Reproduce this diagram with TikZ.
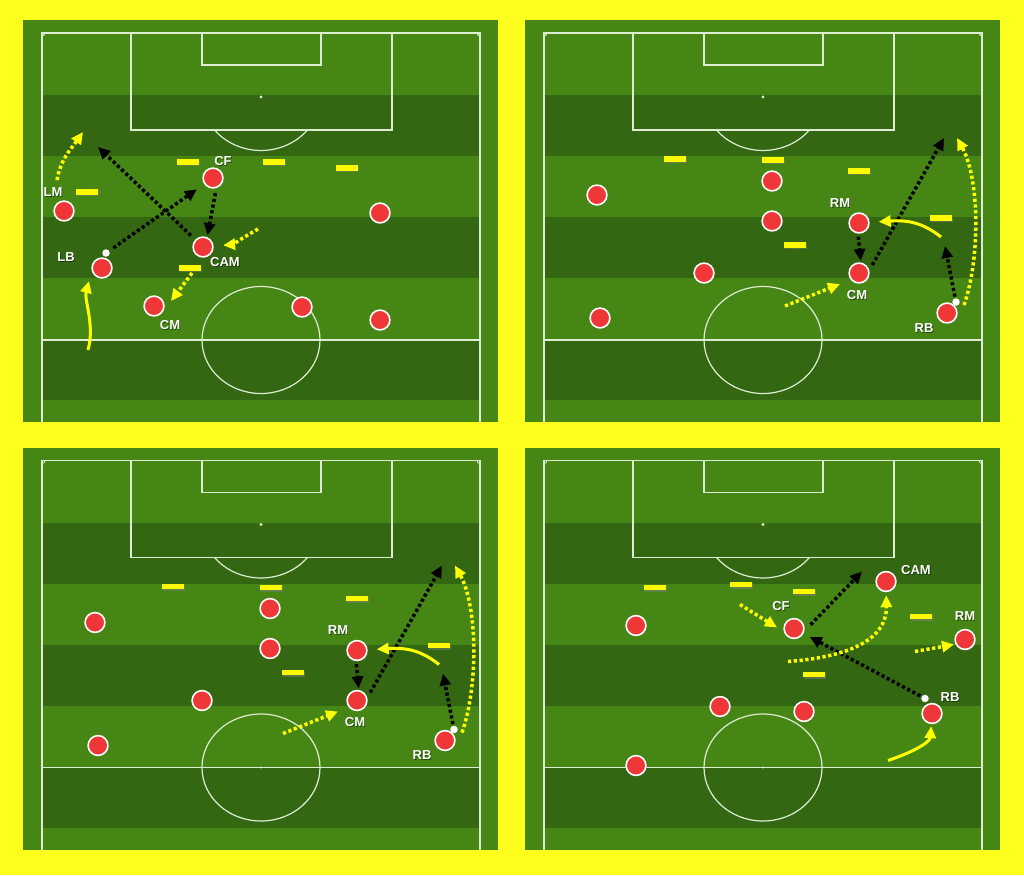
\documentclass[tikz,border=0pt]{standalone}
\usepackage{fontspec}
\setmainfont{Liberation Sans}
\usetikzlibrary{arrows.meta,shadows}
\definecolor{bgyel}{RGB}{255,255,30}
\definecolor{gl}{RGB}{69,134,21}
\definecolor{gd}{RGB}{51,103,17}
\definecolor{pred}{RGB}{240,55,55}
\definecolor{oyel}{RGB}{255,250,0}
\definecolor{ayel}{RGB}{255,255,0}
\definecolor{pline}{RGB}{222,236,210}
\tikzset{
 player/.style={circle, fill=pred, draw=white, line width=1.6pt, minimum size=19.8pt, inner sep=0pt,
   drop shadow={shadow xshift=0.8pt, shadow yshift=-1pt, opacity=0.35}},
 opp/.style={rectangle, fill=oyel, minimum width=22pt, minimum height=5.5pt, inner sep=0pt,
   drop shadow={shadow xshift=1pt, shadow yshift=-1.5pt, opacity=0.5}},
 ball/.style={circle, fill=white, minimum size=7.5pt, inner sep=0pt},
 lbl/.style={font=\bfseries\fontsize{13}{14}\selectfont, text=white, inner sep=0pt},
 lblsh/.style={lbl, text=black, opacity=0.45},
 blk/.style={draw=black, line width=3.5pt, dash pattern=on 3.2pt off 2.6pt, -{Triangle[length=12pt,width=11pt]}},
 ydot/.style={blk, draw=ayel},
 ysol/.style={draw=ayel, line width=3pt, -{Triangle[length=12pt,width=11pt]}},
 pl/.style={draw=pline, line width=1.2pt},
}
\newcommand\lab[4]{%
 \node[lblsh] (#1-s) at (#2+0.9,#3+0.9) {#4};
 \node[lbl] (#1) at (#2,#3) {#4};}
\newcommand\pitch{%
 \fill[gl] (23,20) rectangle (498,422);
 \fill[gd] (42,95) rectangle (480,156);
 \fill[gd] (42,217) rectangle (480,278);
 \fill[gd] (42,340) rectangle (480,400);
 \draw[pl] (42,422) -- (42,33) -- (480,33) -- (480,422);
 \draw[pl] (42,340) -- (480,340);
 \draw[pl] (131,33) rectangle (392,130);
 \draw[pl] (202,33) rectangle (321,65);
 \fill[pline] (261,97) circle[radius=1.6pt];
 \fill[pline] (261,340) circle[radius=1.1pt];
 \draw[pl] (261,340) ellipse[x radius=59pt, y radius=53.5pt];
 \draw[pl] (307.4,130) arc[start angle=-38.1, end angle=-141.9, x radius=59pt, y radius=53.5pt];
 \draw[pl,line width=0.9pt] (42,36) arc[start angle=-90,end angle=0,radius=3pt];
 \draw[pl,line width=0.9pt] (477,33) arc[start angle=180,end angle=270,radius=3pt];
}
\newcommand\panelRM[1]{%
 \pitch
 \node[opp] (#1-o1) at (173,159) {};
 \node[opp] (#1-o2) at (271,160) {};
 \node[opp] (#1-o3) at (357,171) {};
 \node[opp] (#1-o4) at (439,218) {};
 \node[opp] (#1-o5) at (293,245) {};
 \node[player] (#1-p1) at (95,195) {};
 \node[player] (#1-p2) at (270,181) {};
 \node[player] (#1-p3) at (270,221) {};
 \node[player] (#1-rm) at (357,223) {};
 \node[player] (#1-p5) at (202,273) {};
 \node[player] (#1-cm) at (357,273) {};
 \node[player] (#1-p7) at (98,318) {};
 \node[player] (#1-rb) at (445,313) {};
 \node[ball] (#1-ball) at (454,302) {};
 \lab{#1-lrm}{338}{203}{RM}
 \lab{#1-lcm}{355}{295}{CM}
 \lab{#1-lrb}{422}{328}{RB}
 \coordinate (#1-t1) at (442,138);
 \coordinate (#1-t2) at (443,246);
 \coordinate (#1-y1s) at (462,305);
 \coordinate (#1-y1e) at (455,138);
 \coordinate (#1-y2s) at (439,237);
 \coordinate (#1-y3s) at (283,306);
 \coordinate (#1-y3e) at (338,284);
 \draw[blk, shorten <=3pt, shorten >=1.5pt] (#1-rm.-95) -- (#1-cm.80);
 \draw[blk, shorten <=6pt] (#1-cm.15) -- (#1-t1);
 \draw[blk, shorten <=1.5pt] (#1-ball) -- (#1-t2);
 \draw[ydot] (#1-y1s) .. controls (478,260) and (478,180) .. (#1-y1e);
 \draw[ysol, shorten >=9pt] (#1-y2s) .. controls (420,222) and (405,220) .. (#1-rm);
 \draw[ydot] (#1-y3s) -- (#1-y3e);
}
\begin{document}
\begin{tikzpicture}[x=1pt,y=-1pt]
\useasboundingbox (0,0) rectangle (1024,875);
\fill[bgyel] (0,0) rectangle (1024,875);
% ---------- panel 1 ----------
\begin{scope}
 \pitch
 \node[opp] (a-o1) at (188,162) {};
 \node[opp] (a-o2) at (274,162) {};
 \node[opp] (a-o3) at (347,168) {};
 \node[opp] (a-o4) at (87,192) {};
 \node[opp] (a-o5) at (190,268) {};
 \node[player] (a-lm) at (64,211) {};
 \node[player] (a-cf) at (213,178) {};
 \node[player] (a-r1) at (380,213) {};
 \node[player] (a-cam) at (203,247) {};
 \node[player] (a-lb) at (102,268) {};
 \node[player] (a-cm) at (154,306) {};
 \node[player] (a-r2) at (302,307) {};
 \node[player] (a-r3) at (380,320) {};
 \node[ball] (a-ball) at (106,253) {};
 \lab{a-llm}{53}{192}{LM}
 \lab{a-lcf}{223}{161}{CF}
 \lab{a-lcam}{225}{262}{CAM}
 \lab{a-llb}{66}{257}{LB}
 \lab{a-lcm}{170}{325}{CM}
 \coordinate (a-t1) at (98,147);
 \coordinate (a-y1s) at (57,180);
 \coordinate (a-y1e) at (83,132);
 \coordinate (a-y2s) at (258,229);
 \coordinate (a-y3s) at (192,273);
 \coordinate (a-y3e) at (171,301);
 \coordinate (a-y4s) at (88,350);
 \coordinate (a-y4e) at (89,281);
 \draw[blk, shorten <=5pt, shorten >=9pt] (a-ball) -- (a-cf);
 \draw[blk, shorten <=6pt] (a-cam) -- (a-t1);
 \draw[blk, shorten <=5pt, shorten >=2pt] (a-cf.-72) -- (a-cam.67);
 \draw[ydot] (a-y1s) to[out=80,in=235] (a-y1e);
 \draw[ydot, shorten >=9.5pt] (a-y2s) to[out=210,in=5] (a-cam);
 \draw[ydot] (a-y3s) -- (a-y3e);
 \draw[ysol] (a-y4s) .. controls (95,325) and (84,300) .. (a-y4e);
\end{scope}
% ---------- panel 2 ----------
\begin{scope}[shift={(502,0)}]
 \panelRM{b}
\end{scope}
% ---------- panel 3 ----------
\begin{scope}[shift={(0,427.5)}]
 \panelRM{c}
\end{scope}
% ---------- panel 4 ----------
\begin{scope}[shift={(502,427.5)}]
 \pitch
 \node[opp] (d-o1) at (153,160) {};
 \node[opp] (d-o2) at (239,157) {};
 \node[opp] (d-o3) at (302,164) {};
 \node[opp] (d-o4) at (419,189) {};
 \node[opp] (d-o5) at (312,247) {};
 \node[player] (d-p1) at (134,198) {};
 \node[player] (d-cf) at (292,201) {};
 \node[player] (d-cam) at (384,154) {};
 \node[player] (d-rm) at (463,212) {};
 \node[player] (d-p5) at (218,279) {};
 \node[player] (d-p6) at (302,284) {};
 \node[player] (d-rb) at (430,286) {};
 \node[player] (d-p8) at (134,338) {};
 \node[ball] (d-ball) at (423,271) {};
 \lab{d-lcf}{279}{179}{CF}
 \lab{d-lcam}{414}{143}{CAM}
 \lab{d-lrm}{463}{189}{RM}
 \lab{d-lrb}{448}{270}{RB}
 \coordinate (d-t1) at (360,144);
 \coordinate (d-y1s) at (238,177);
 \coordinate (d-y1e) at (275,200);
 \coordinate (d-y2s) at (286,234);
 \coordinate (d-y3s) at (413,224);
 \coordinate (d-y3e) at (452,217);
 \coordinate (d-y4s) at (386,333);
 \draw[blk, shorten <=9pt] (d-cf.-15) -- (d-t1);
 \draw[blk, shorten <=1.5pt, shorten >=7pt] (d-ball) -- (d-cf);
 \draw[ydot] (d-y1s) -- (d-y1e);
 \draw[ydot, shorten >=3pt] (d-y2s) .. controls (340,230) and (385,215) .. (d-cam);
 \draw[ydot] (d-y3s) -- (d-y3e);
 \draw[ysol, shorten >=2pt] (d-y4s) .. controls (410,325) and (428,315) .. (d-rb);
\end{scope}
\end{tikzpicture}
\end{document}
